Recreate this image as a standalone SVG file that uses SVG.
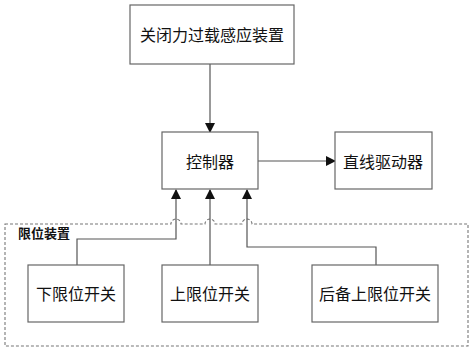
<svg xmlns="http://www.w3.org/2000/svg" width="474" height="351" viewBox="0 0 474 351">
<defs>
<style>
.box{fill:#fff;stroke:#666;stroke-width:1.2}
.t{font-family:"Noto Sans CJK SC","Noto Sans CJK JP",sans-serif;font-size:16px;fill:#111;text-anchor:middle;dominant-baseline:central}
.ln{fill:none;stroke:#555;stroke-width:1.2}
.dash{fill:none;stroke:#777;stroke-width:1.1;stroke-dasharray:3,2}
</style>
<marker id="ah" markerWidth="10" markerHeight="10" refX="9" refY="5" orient="auto" markerUnits="userSpaceOnUse">
<path d="M0,0 L10,5 L0,10 z" fill="#111"/>
</marker>
</defs>
<rect width="474" height="351" fill="#fff"/>
<g id="group-limit">
<path class="dash" d="M5,224 H171 a5,5 0 0 1 10,0 H205 a5,5 0 0 1 10,0 H242 a5,5 0 0 1 10,0 H468 V346 H5 Z"/>
<text x="18" y="232" style="font-family:'Noto Sans CJK SC',sans-serif;font-size:13px;font-weight:bold;fill:#111;dominant-baseline:central">限位装置</text>
</g>
<g id="connectors">
<line class="ln" x1="210" y1="64" x2="210" y2="132" marker-end="url(#ah)"/>
<line class="ln" x1="258" y1="161" x2="335" y2="161" marker-end="url(#ah)"/>
<polyline class="ln" points="77,265 77,239 176,239 176,190" marker-end="url(#ah)"/>
<polyline class="ln" points="210,265 210,190" marker-end="url(#ah)"/>
<polyline class="ln" points="376,265 376,247 247,247 247,190" marker-end="url(#ah)"/>
</g>
<g id="sensor"><rect class="box" x="130" y="5" width="164" height="59"/><text class="t" x="212" y="34">关闭力过载感应装置</text></g>
<g id="controller"><rect class="box" x="162" y="132" width="96" height="57"/><text class="t" x="210" y="161">控制器</text></g>
<g id="driver"><rect class="box" x="335" y="132" width="97" height="57"/><text class="t" x="383" y="161">直线驱动器</text></g>
<g id="lower"><rect class="box" x="28" y="265" width="96" height="57"/><text class="t" x="76" y="293">下限位开关</text></g>
<g id="upper"><rect class="box" x="162" y="265" width="96" height="57"/><text class="t" x="210" y="293">上限位开关</text></g>
<g id="backup"><rect class="box" x="312" y="265" width="126" height="57"/><text class="t" x="375" y="293">后备上限位开关</text></g>
</svg>
